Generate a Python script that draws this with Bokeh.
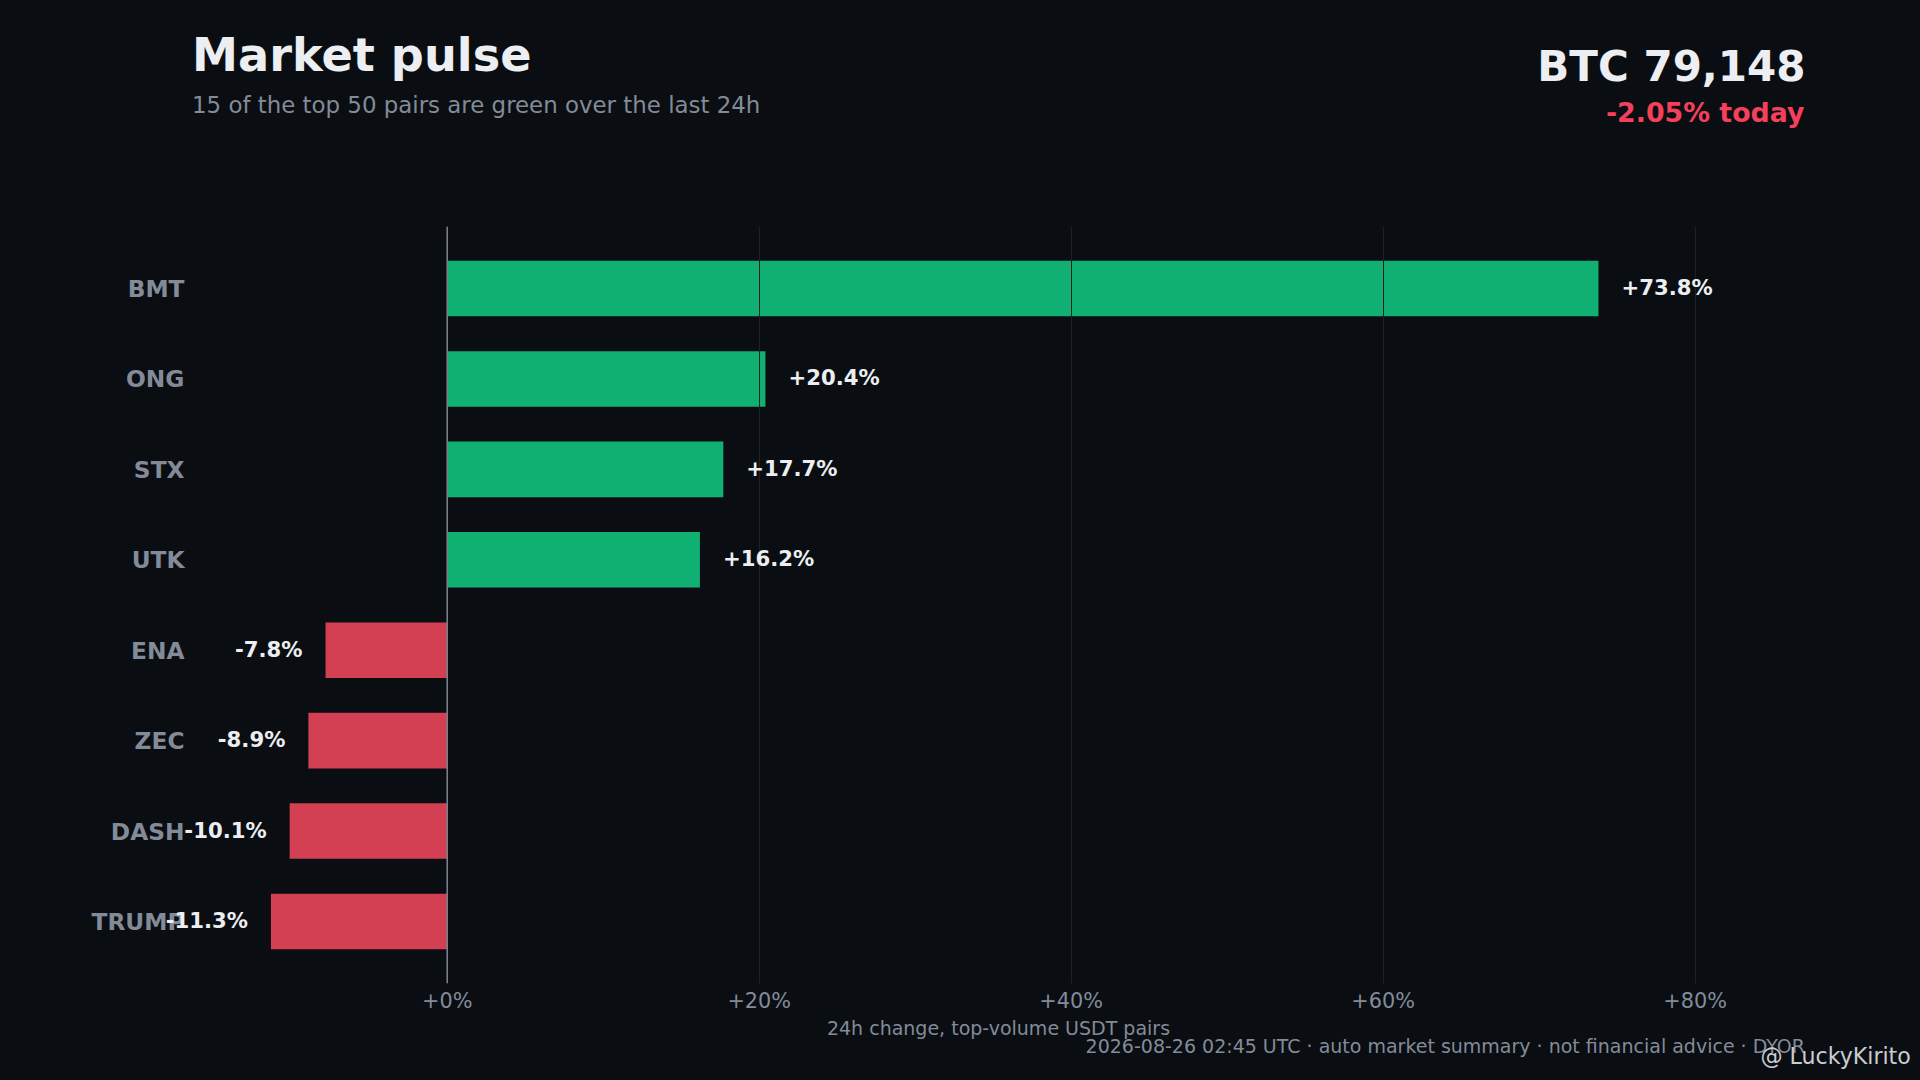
from bokeh.embed import file_html
from bokeh.resources import INLINE
from bokeh.layouts import column
from bokeh.plotting import figure
from bokeh.models import (ColumnDataSource, FactorRange, Range1d, FixedTicker, Label, Span)
from bokeh.core.properties import value

SYMBOLS = ["BMT", "ONG", "STX", "UTK", "ENA", "ZEC", "DASH", "TRUMP"]
CHANGES = [73.8, 20.4, 17.7, 16.2, -7.8, -8.9, -10.1, -11.3]
LABELS = ["+73.8%", "+20.4%", "+17.7%", "+16.2%", "-7.8%", "-8.9%", "-10.1%", "-11.3%"]
X_TICKS = [0, 20, 40, 60, 80]
X_TICK_LABELS = ["+0%", "+20%", "+40%", "+60%", "+80%"]

TITLE = "Market pulse"
SUBTITLE = "15 of the top 50 pairs are green over the last 24h"
BTC_PRICE = "BTC 79,148"
BTC_CHANGE = "-2.05% today"
X_LABEL = "24h change, top-volume USDT pairs"
FOOTER = "2026-08-26 02:45 UTC · auto market summary · not financial advice · DYOR"
WATERMARK = "@ LuckyKirito"

BG = "#0a0e12"
GREEN = "#0fb072"
RED = "#d33f53"
MUTED = "#838b98"
TEXT = "#eceef2"
FONT = "DejaVu Sans"
W, H = 1920, 1080

src = ColumnDataSource(dict(
    sym=SYMBOLS, chg=CHANGES, lab=LABELS, zero=[0] * len(SYMBOLS),
    col=[GREEN if v >= 0 else RED for v in CHANGES],
))

p = figure(width=W, height=H, output_backend="svg", toolbar_location=None,
           frame_width=1686, frame_height=757,
           x_range=Range1d(-18.7, 89.38),
           y_range=FactorRange(factors=SYMBOLS[::-1], range_padding=0.0465),
           min_border_left=155, min_border_right=79, min_border_top=226, min_border_bottom=97,
           background_fill_color=BG, border_fill_color=BG, outline_line_color=None)

p.hbar(y="sym", left="zero", right="chg", height=0.615, color="col", line_color=None, source=src)

pos = [i for i, v in enumerate(CHANGES) if v >= 0]
neg = [i for i, v in enumerate(CHANGES) if v < 0]
for idx, off, align in ((pos, 23, "left"), (neg, -23, "right")):
    p.text(x=[CHANGES[i] for i in idx], y=[SYMBOLS[i] for i in idx], text=[LABELS[i] for i in idx],
           x_offset=off, y_offset=-1, text_align=align, text_baseline="middle", level="overlay",
           text_color=TEXT, text_font=value(FONT), text_font_size="21.2px", text_font_style="bold")

p.xaxis.ticker = FixedTicker(ticks=X_TICKS)
p.xaxis.major_label_overrides = dict(zip(X_TICKS, X_TICK_LABELS))
p.xaxis.axis_line_color = None
p.xaxis.major_tick_line_color = None
p.xaxis.minor_tick_line_color = None
p.xaxis.major_tick_out = 0
p.xaxis.major_tick_in = 0
p.xaxis.major_label_text_color = MUTED
p.xaxis.major_label_text_font = FONT
p.xaxis.major_label_text_font_size = "20.8px"
p.xaxis.major_label_standoff = 5
p.xaxis.axis_label = X_LABEL
p.xaxis.axis_label_text_color = MUTED
p.xaxis.axis_label_text_font = FONT
p.xaxis.axis_label_text_font_size = "19px"
p.xaxis.axis_label_text_font_style = "normal"
p.xaxis.axis_label_standoff = 1

p.yaxis.axis_line_color = None
p.yaxis.major_tick_line_color = None
p.yaxis.minor_tick_line_color = None
p.yaxis.major_tick_out = 0
p.yaxis.major_tick_in = 0
p.yaxis.major_label_text_color = MUTED
p.yaxis.major_label_text_font = FONT
p.yaxis.major_label_text_font_size = "23.3px"
p.yaxis.major_label_text_font_style = "bold"
p.yaxis.major_label_standoff = -29

p.ygrid.grid_line_color = None
p.xgrid.grid_line_color = "#1c2126"
p.xgrid.grid_line_width = 1
p.xgrid.level = "guide"

p.add_layout(Span(location=0, dimension="height", line_color="#7d8591", line_width=1.5, level="guide"))


def txt(text, x, baseline_y, size, color=MUTED, bold=False, align="left"):
    p.add_layout(Label(x=x, y=baseline_y, x_units="canvas", y_units="canvas", text=text,
                       text_color=color, text_font=FONT, text_font_size=size,
                       text_font_style="bold" if bold else "normal",
                       text_align=align, text_baseline="alphabetic"), "above")


txt(TITLE, 191.5, 54, "46.2px", TEXT, True)
txt(SUBTITLE, 191.5, 104.5, "22.9px")
txt(BTC_PRICE, 1805, 66, "42px", TEXT, True, "right")
txt(BTC_CHANGE, 1804, 112, "26.8px", "#f5405b", True, "right")
txt(FOOTER, 1804.5, 1045.7, "19px", MUTED, False, "right")
txt(WATERMARK, 1760, 1055, "22.1px", "#c9ccd1")

# Binance-style diamond mark next to the watermark, in its own small transparent figure
MARK_XS = [
    [0, 3.6, 0, -3.6],
    [-10, -7, -4, -7],
    [10, 7, 4, 7],
    [0, 8, 5.5, 0, -5.5, -8],
    [0, 8, 5.5, 0, -5.5, -8],
]
MARK_YS = [
    [-3.6, 0, 3.6, 0],
    [0, -3, 0, 3],
    [0, -3, 0, 3],
    [13, 5, 2.8, 8.2, 2.8, 5],
    [-13, -5, -2.8, -8.2, -2.8, -5],
]
icon = figure(width=30, height=44, output_backend="svg", toolbar_location=None,
              match_aspect=True,
              min_border=0, outline_line_color=None, background_fill_alpha=0, border_fill_alpha=0,
              margin=(-41, 0, 0, 1727))
icon.axis.visible = False
icon.grid.visible = False
icon.patches(MARK_XS, MARK_YS, fill_color="#d5d8dc", line_color=None)

page = column(p, icon, spacing=0, margin=0)
html = file_html(page, INLINE)
html = html.replace("<head>", "<head><style>html,body{background:%s;overflow:hidden;}</style>" % BG, 1)
open("out.html", "w").write(html)
